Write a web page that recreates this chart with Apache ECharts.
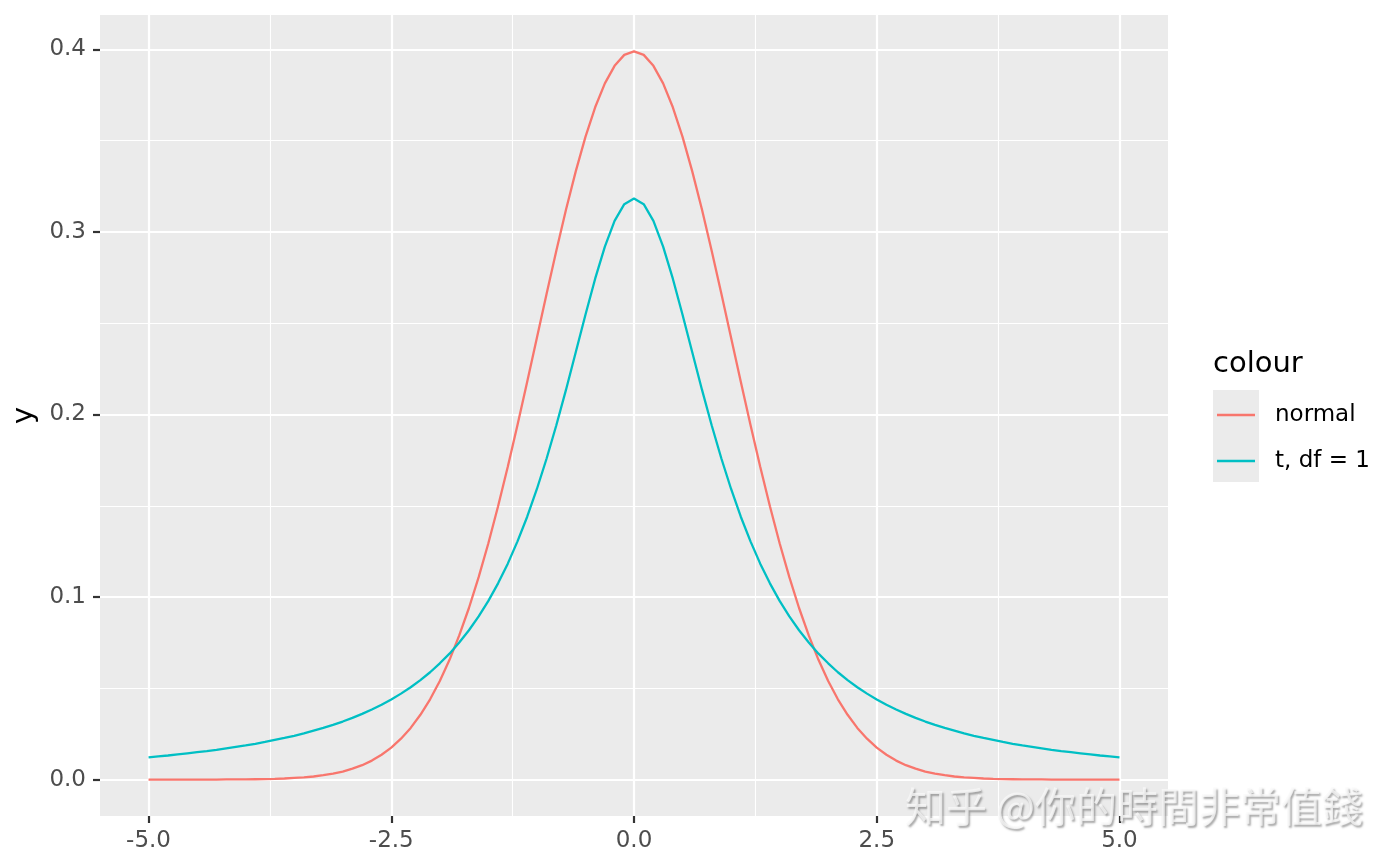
<!DOCTYPE html>
<html>
<head>
<meta charset="utf-8">
<script src="https://cdn.jsdelivr.net/npm/echarts@6/dist/echarts.min.js"></script>
<style>html,body{margin:0;padding:0;background:#fff}#c{width:1400px;height:866px}</style>
</head>
<body>
<div id="c"></div>
<script>
const xValues = [-5.0,-4.9,-4.8,-4.7,-4.6,-4.5,-4.4,-4.3,-4.2,-4.1,
  -4.0,-3.9,-3.8,-3.7,-3.6,-3.5,-3.4,-3.3,-3.2,-3.1,
  -3.0,-2.9,-2.8,-2.7,-2.6,-2.5,-2.4,-2.3,-2.2,-2.1,
  -2.0,-1.9,-1.8,-1.7,-1.6,-1.5,-1.4,-1.3,-1.2,-1.1,
  -1.0,-0.9,-0.8,-0.7,-0.6,-0.5,-0.4,-0.3,-0.2,-0.1,
  0.0,0.1,0.2,0.3,0.4,0.5,0.6,0.7,0.8,0.9,
  1.0,1.1,1.2,1.3,1.4,1.5,1.6,1.7,1.8,1.9,
  2.0,2.1,2.2,2.3,2.4,2.5,2.6,2.7,2.8,2.9,
  3.0,3.1,3.2,3.3,3.4,3.5,3.6,3.7,3.8,3.9,
  4.0,4.1,4.2,4.3,4.4,4.5,4.6,4.7,4.8,4.9,5.0];
const normalValues = [0.0000,0.0000,0.0000,0.0000,0.0000,0.0000,0.0000,0.0000,0.0001,0.0001,
  0.0001,0.0002,0.0003,0.0004,0.0006,0.0009,0.0012,0.0017,0.0024,0.0033,
  0.0044,0.0060,0.0079,0.0104,0.0136,0.0175,0.0224,0.0283,0.0355,0.0440,
  0.0540,0.0656,0.0790,0.0940,0.1109,0.1295,0.1497,0.1714,0.1942,0.2179,
  0.2420,0.2661,0.2897,0.3123,0.3332,0.3521,0.3683,0.3814,0.3910,0.3970,
  0.3989,0.3970,0.3910,0.3814,0.3683,0.3521,0.3332,0.3123,0.2897,0.2661,
  0.2420,0.2179,0.1942,0.1714,0.1497,0.1295,0.1109,0.0940,0.0790,0.0656,
  0.0540,0.0440,0.0355,0.0283,0.0224,0.0175,0.0136,0.0104,0.0079,0.0060,
  0.0044,0.0033,0.0024,0.0017,0.0012,0.0009,0.0006,0.0004,0.0003,0.0002,
  0.0001,0.0001,0.0001,0.0000,0.0000,0.0000,0.0000,0.0000,0.0000,0.0000,0.0000];
const tValues = [0.0122,0.0127,0.0132,0.0138,0.0144,0.0150,0.0156,0.0163,0.0171,0.0179,
  0.0187,0.0196,0.0206,0.0217,0.0228,0.0240,0.0253,0.0268,0.0283,0.0300,
  0.0318,0.0338,0.0360,0.0384,0.0410,0.0439,0.0471,0.0506,0.0545,0.0588,
  0.0637,0.0690,0.0751,0.0818,0.0894,0.0979,0.1075,0.1183,0.1305,0.1440,
  0.1592,0.1759,0.1941,0.2136,0.2341,0.2546,0.2744,0.2920,0.3061,0.3152,
  0.3183,0.3152,0.3061,0.2920,0.2744,0.2546,0.2341,0.2136,0.1941,0.1759,
  0.1592,0.1440,0.1305,0.1183,0.1075,0.0979,0.0894,0.0818,0.0751,0.0690,
  0.0637,0.0588,0.0545,0.0506,0.0471,0.0439,0.0410,0.0384,0.0360,0.0338,
  0.0318,0.0300,0.0283,0.0268,0.0253,0.0240,0.0228,0.0217,0.0206,0.0196,
  0.0187,0.0179,0.0171,0.0163,0.0156,0.0150,0.0144,0.0138,0.0132,0.0127,0.0122];
const seriesNames = ['normal', 't, df = 1'];
const xMajorTicks = [-5.0, -2.5, 0.0, 2.5, 5.0];
const xMinorTicks = [-3.75, -1.25, 1.25, 3.75];
const yMajorTicks = [0.0, 0.1, 0.2, 0.3, 0.4];
const yMinorTicks = [0.05, 0.15, 0.25, 0.35];

const FONT = 'DejaVu Sans';
const xMin = -5.5, xMax = 5.5;
const yMin = -0.019945, yMax = 0.418845;

const chart = echarts.init(document.getElementById('c'), null, {renderer: 'canvas'});

function majorAxis(min, max, ticks, pos, margin, extra) {
  return Object.assign({
    type: 'value', min: min, max: max, position: pos,
    axisLine: {show: true, onZero: false, lineStyle: {color: 'rgba(0,0,0,0)', width: 0}},
    axisTick: {show: true, inside: false, length: 7, customValues: ticks, lineStyle: {color: '#333333', width: 2.2, opacity: 1}},
    axisLabel: {customValues: ticks, formatter: v => Number(v).toFixed(1), color: '#4D4D4D', fontSize: 23, fontFamily: FONT, margin: margin},
    splitLine: {show: true, lineStyle: {color: '#FFFFFF', width: 2.2}},
    minorSplitLine: {show: false}
  }, extra || {});
}
function minorAxis(min, max, ticks, pos) {
  return {
    type: 'value', min: min, max: max, position: pos,
    axisLine: {show: false, onZero: false},
    axisTick: {show: false, customValues: ticks},
    axisLabel: {show: false, customValues: ticks},
    splitLine: {show: true, lineStyle: {color: '#FFFFFF', width: 1.1}}
  };
}

const option = {
  animation: false,
  backgroundColor: '#FFFFFF',
  grid: {left: 100, right: 232, top: 15, bottom: 50, show: true, backgroundColor: '#EBEBEB', borderWidth: 0, containLabel: false, outerBoundsMode: 'none'},
  xAxis: [
    minorAxis(xMin, xMax, xMinorTicks, 'bottom'),
    majorAxis(xMin, xMax, xMajorTicks, 'bottom', 14)
  ],
  yAxis: [
    minorAxis(yMin, yMax, yMinorTicks, 'left'),
    majorAxis(yMin, yMax, yMajorTicks, 'left', 14, {
      name: 'y', nameLocation: 'middle', nameGap: 56, nameRotate: 90,
      nameTextStyle: {color: '#000000', fontSize: 29, fontFamily: FONT}
    })
  ],
  legend: {
    orient: 'vertical', left: 1217, top: 392, padding: 0,
    itemWidth: 38, itemHeight: 2.5, itemGap: 0, icon: 'rect',
    data: seriesNames,
    selectedMode: false,
    textStyle: {fontSize: 23, fontFamily: FONT, color: '#000000', lineHeight: 46, padding: [0, 0, 0, 15]}
  },
  graphic: [
    {type: 'rect', left: 1213, top: 390, z: 0, shape: {width: 46, height: 92}, style: {fill: '#EBEBEB'}},
    {type: 'text', left: 1213, top: 350, z: 5, style: {text: 'colour', fontSize: 29, fontFamily: FONT, fill: '#000000'}},
    {type: 'text', left: 905, top: 786, z: 100, style: {
      text: '知乎 @你的時間非常值錢', fontSize: 41, fontWeight: 'normal', fontFamily: 'Noto Sans CJK TC',
      fill: 'rgba(250,250,250,0.75)', textShadowColor: 'rgba(90,90,90,0.7)', textShadowOffsetX: 1.5, textShadowOffsetY: 1.5, textShadowBlur: 2
    }}
  ],
  series: [
    {
      name: seriesNames[0], type: 'line', xAxisIndex: 1, yAxisIndex: 1,
      showSymbol: false, symbol: 'none', smooth: false,
      lineStyle: {color: '#F8766D', width: 2.3}, itemStyle: {color: '#F8766D'},
      data: xValues.map((x, i) => [x, normalValues[i]]), z: 3
    },
    {
      name: seriesNames[1], type: 'line', xAxisIndex: 1, yAxisIndex: 1,
      showSymbol: false, symbol: 'none', smooth: false,
      lineStyle: {color: '#00BFC4', width: 2.3}, itemStyle: {color: '#00BFC4'},
      data: xValues.map((x, i) => [x, tValues[i]]), z: 3
    }
  ]
};
chart.setOption(option);
</script>
</body>
</html>
